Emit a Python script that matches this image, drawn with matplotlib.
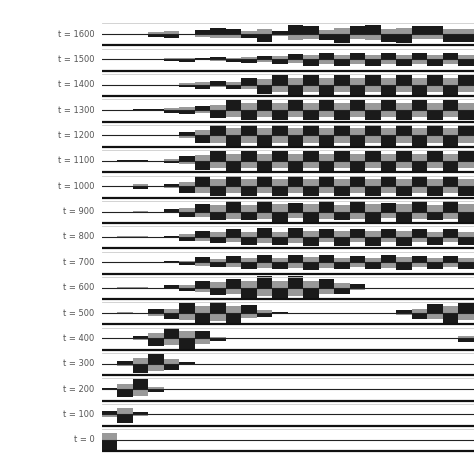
import matplotlib
matplotlib.use("Agg")
import matplotlib.pyplot as plt
import numpy as np

# row labels, top to bottom
labels = ["t = 1600", "t = 1500", "t = 1400", "t = 1300", "t = 1200", "t = 1100",
          "t = 1000", "t = 900", "t = 800", "t = 700", "t = 600", "t = 500",
          "t = 400", "t = 300", "t = 200", "t = 100", "t = 0"]

# signed amplitude per bin (24 bins across), one list per row
rows = [
    [0, 0, 0, -.2, -.3, 0, .3, .5, .4, -.3, -.6, .2, .7, .6, -.5, -.7, .6, .7, -.6, -.7, .6, .6, -.6, -.6],
    [0, 0, 0, 0, -.1, -.2, .1, .2, -.2, -.3, .3, -.4, .4, -.5, .5, -.5, .5, -.5, .5, -.5, .5, -.5, .5, -.5],
    [0, 0, 0, 0, 0, -.2, -.3, .3, -.3, .5, -.7, .8, -.8, .8, -.8, .8, -.8, .8, -.8, .8, -.8, .8, -.8, .8],
    [0, 0, .1, .1, -.2, -.3, .3, -.6, .8, -.8, .8, -.8, .8, -.8, .8, -.8, .8, -.8, .8, -.8, .8, -.8, .8, -.8],
    [0, 0, 0, 0, 0, .3, -.6, .8, -.8, .8, -.8, .8, -.8, .8, -.8, .8, -.8, .8, -.8, .8, -.8, .8, -.8, .8],
    [0, .1, .1, 0, -.2, .4, -.7, .8, -.8, .8, -.8, .8, -.8, .8, -.8, .8, -.8, .8, -.8, .8, -.8, .8, -.8, .8],
    [0, 0, -.2, 0, .2, -.5, .8, -.8, .8, -.8, .8, -.8, .8, -.8, .8, -.8, .8, -.8, .8, -.8, .8, -.8, .8, -.8],
    [0, 0, -.1, 0, .2, -.4, .6, -.7, .8, -.7, .8, -.8, .7, -.8, .8, -.7, .8, -.8, .7, -.8, .8, -.7, .8, -.8],
    [0, -.1, -.1, 0, .1, -.3, .5, -.5, .6, -.6, .7, -.6, .7, -.7, .6, -.7, .6, -.7, .6, -.7, .6, -.6, .6, -.6],
    [0, 0, 0, 0, .1, -.2, .4, -.4, .5, -.5, .6, -.5, .6, -.6, .6, -.5, .5, -.5, .6, -.6, .5, -.5, .5, -.5],
    [0, -.1, -.1, 0, .2, -.3, .5, -.6, .7, -.8, .9, -.8, .9, -.8, .7, -.5, .3, 0, 0, 0, 0, 0, 0, 0],
    [0, -.1, 0, .3, -.5, .8, -.8, .9, -.8, .6, -.3, .1, 0, 0, 0, 0, 0, 0, 0, .2, -.5, .7, -.8, .8],
    [0, 0, .2, -.6, .8, -.8, .6, -.2, 0, 0, 0, 0, 0, 0, 0, 0, 0, 0, 0, 0, 0, 0, 0, -.3],
    [0, .2, -.7, .8, -.5, .1, 0, 0, 0, 0, 0, 0, 0, 0, 0, 0, 0, 0, 0, 0, 0, 0, 0, 0],
    [.1, -.6, .8, -.2, 0, 0, 0, 0, 0, 0, 0, 0, 0, 0, 0, 0, 0, 0, 0, 0, 0, 0, 0, 0],
    [.3, -.7, .2, 0, 0, 0, 0, 0, 0, 0, 0, 0, 0, 0, 0, 0, 0, 0, 0, 0, 0, 0, 0, 0],
    [-.8, 0, 0, 0, 0, 0, 0, 0, 0, 0, 0, 0, 0, 0, 0, 0, 0, 0, 0, 0, 0, 0, 0, 0],
]

fig = plt.figure(figsize=(4.74, 4.74), dpi=100)
ax = fig.add_axes([0.215, 0.04, 0.785, 0.915])
n = len(rows)
xs = np.arange(24)
for i, (lab, vals) in enumerate(zip(labels, rows)):
    base = n - 1 - i
    v = np.array(vals) * 0.5
    ax.bar(xs * 0.5, -v * 0.7, width=0.5, bottom=base, align="edge", color="#999999", lw=0)
    ax.bar(xs * 0.5, v, width=0.5, bottom=base, align="edge", color="#1a1a1a", lw=0)
    ax.axhline(base, color="#222222", lw=0.8)
    ax.axhline(base - 0.45, color="#111111", lw=1.6)
    ax.axhline(base + 0.42, color="#cccccc", lw=0.6)
    ax.text(-0.02, base, lab, transform=ax.get_yaxis_transform(), ha="right", va="center",
            fontsize=6, color="#555555")
ax.set_xlim(0, 12)
ax.set_ylim(-0.6, n - 0.5)
ax.axis("off")
fig.savefig("out.png", dpi=100)
